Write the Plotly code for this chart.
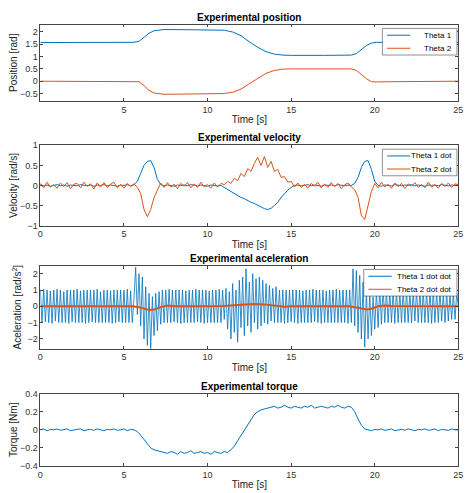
import numpy as np
import plotly.graph_objs as go

# coarse time base for the smooth position signals
t_pos = [0, 2, 4, 5.6, 5.9, 6.2, 6.5, 6.8, 7.1, 7.4, 9, 10.5, 11, 11.5, 12, 12.5, 13, 13.5, 14, 14.5, 15, 17, 18.6,
         18.9, 19.2, 19.5, 19.8, 20.1, 21, 23, 25]
theta1 = [1.57, 1.58, 1.57, 1.58, 1.62, 1.78, 1.95, 2.05, 2.09, 2.1, 2.09, 2.09, 2.07, 2.0, 1.85, 1.6, 1.38, 1.2, 1.1, 1.06, 1.05, 1.05, 1.06,
          1.12, 1.27, 1.45, 1.55, 1.58, 1.57, 1.56, 1.57]
theta2 = [0.0, -0.01, 0.0, 0.0, -0.02, -0.18, -0.37, -0.48, -0.52, -0.53, -0.52, -0.52, -0.5, -0.45, -0.32, -0.1, 0.12, 0.32, 0.44, 0.49, 0.5, 0.5, 0.5,
          0.44, 0.28, 0.1, -0.02, -0.03, -0.02, -0.01, 0.0]

# 0.2 s sampling for velocity and torque
t = np.round(np.arange(0, 25.01, 0.2), 2)

vel1 = [0.02, -0.01, 0.01, -0.02, 0.0, 0.02, -0.01, 0.01, -0.02, 0.01, 0.0, -0.01, 0.02, 0.0, -0.01, 0.01, -0.02, 0.01, 0.0, 0.02,
        -0.01, 0.01, 0.0, -0.02, 0.01, 0.0, 0.02, -0.01, 0.02, 0.1, 0.3, 0.5, 0.6, 0.62, 0.45, 0.15, 0.02, -0.01, 0.01, 0.0,
        -0.02, 0.01, 0.0, 0.01, -0.01, 0.02, 0.0, -0.01, 0.01, 0.0, -0.02, 0.01, 0.0, -0.01, 0.0, -0.05, -0.1, -0.16, -0.2, -0.26,
        -0.3, -0.33, -0.38, -0.42, -0.45, -0.5, -0.55, -0.58, -0.6, -0.57, -0.5, -0.42, -0.3, -0.2, -0.12, -0.05, 0.0, 0.01, -0.01, 0.0,
        0.02, -0.01, 0.01, 0.0, -0.02, 0.01, 0.0, 0.01, -0.01, 0.02, 0.0, -0.01, 0.01, 0.0, 0.05, 0.2, 0.45, 0.6, 0.62, 0.4,
        0.1, 0.0, -0.02, 0.01, 0.0, -0.01, 0.02, 0.0, -0.01, 0.01, 0.0, 0.02, -0.01, 0.01, 0.0, -0.02, 0.01, 0.0, 0.01, -0.01,
        0.02, 0.0, -0.01, 0.01, 0.0, 0.01]
vel2 = [0.05, -0.06, 0.08, -0.04, 0.02, -0.07, 0.06, -0.03, 0.07, -0.08, 0.03, 0.05, -0.06, 0.08, -0.02, 0.04, -0.09, 0.06, -0.04, 0.07,
        -0.05, 0.03, 0.08, -0.06, 0.02, -0.07, 0.05, -0.03, 0.04, -0.05, -0.2, -0.6, -0.78, -0.6, -0.3, -0.1, 0.06, -0.05, 0.07, -0.04,
        0.03, -0.08, 0.05, -0.02, 0.07, -0.06, 0.04, -0.05, 0.08, -0.03, 0.02, -0.07, 0.06, -0.04, 0.05, 0.02, 0.1, 0.05, 0.18, 0.12,
        0.3, 0.22, 0.42, 0.35, 0.55, 0.7, 0.5, 0.72, 0.45, 0.6, 0.35, 0.4, 0.2, 0.22, 0.08, 0.1, -0.04, 0.06, -0.05, 0.03,
        -0.07, 0.05, -0.02, 0.08, -0.06, 0.04, -0.05, 0.07, -0.03, 0.05, -0.08, 0.02, 0.06, -0.04, -0.1, -0.3, -0.75, -0.85, -0.5, -0.15,
        0.05, -0.06, 0.08, -0.04, 0.03, -0.07, 0.06, -0.03, 0.05, -0.08, 0.04, -0.02, 0.07, -0.05, 0.03, -0.06, 0.08, -0.04, 0.02, -0.07,
        0.05, -0.03, 0.06, -0.05, 0.04, 0.02]

# acceleration at 0.1 s, one line per second
t_acc = np.round(np.arange(0, 25.01, 0.1), 2)
acc1 = [1.0, -1.0, 1.05, -0.95, 1.0, -1.0, 0.95, -1.05, 1.0, -0.9,
        1.05, -1.0, 1.0, -1.0, 0.9, -1.0, 1.0, -1.05, 1.0, -0.95,
        1.0, -1.0, 1.05, -1.0, 0.95, -1.0, 1.0, -1.05, 1.0, -1.0,
        1.0, -0.95, 1.0, -1.0, 1.05, -1.0, 0.9, -1.0, 1.0, -1.0,
        1.0, -1.0, 0.95, -1.05, 1.0, -1.0, 1.0, -0.95, 1.0, -1.0,
        1.0, -1.0, 1.05, -1.0, 0.95, -1.0, 0.5, 2.4, -0.5, 2.0,
        -1.2, 1.8, -2.0, 1.2, -2.4, 0.8, -2.6, 0.6, -1.8, 0.8,
        -1.5, 0.9, -1.1, 1.0, -1.0, 1.0, -1.0, 1.05, -1.0, 1.0,
        -0.95, 1.0, -1.0, 1.0, -1.05, 1.0, -1.0, 0.95, -1.0, 1.0,
        -1.0, 1.0, -1.0, 1.05, -0.95, 1.0, -1.0, 1.0, -1.05, 1.0,
        -1.0, 0.95, -1.0, 1.0, -1.0, 1.0, -1.0, 1.05, -1.0, 1.0,
        -0.8, 1.1, -1.4, 0.9, -2.0, 1.4, -1.6, 1.0, -2.2, 1.6,
        -1.3, 1.8, -1.8, 2.3, -1.2, 1.5, -1.6, 2.0, -1.0, 1.7,
        -1.4, 1.8, -1.2, 1.6, -1.0, 1.4, -1.1, 1.3, -0.9, 1.1,
        -1.0, 1.2, -1.0, 1.0, -1.0, 1.0, -1.05, 1.0, -1.0, 1.0,
        -0.95, 1.0, -1.0, 1.0, -1.05, 1.0, -1.0, 0.95, -1.0, 1.0,
        -1.0, 1.0, -1.0, 1.05, -0.95, 1.0, -1.0, 1.0, -1.05, 1.0,
        -1.0, 0.95, -1.0, 1.0, -1.0, 1.0, -1.0, 1.05, -1.0, 1.0,
        -1.0, 1.0, -1.0, 1.0, -1.05, 1.0, -1.0, 2.3, -1.2, 2.2,
        -1.6, 1.9, -2.0, 1.5, -2.5, 1.0, -2.0, 0.8, -1.8, 0.6,
        -1.4, 1.0, -1.3, 1.1, -1.1, 1.2, -1.0, 1.0, -1.0, 0.95,
        -1.0, 1.0, -1.05, 1.0, -1.0, 0.9, -1.0, 1.0, -1.0, 1.0,
        -1.0, 0.9, -1.0, 1.0, -0.9, 1.0, -1.0, 1.0, -1.0, 0.95,
        -1.0, 1.0, -1.0, 1.0, -1.05, 1.0, -1.0, 0.9, -1.0, 1.0,
        -0.9, 0.8, -1.0, 0.9, -0.9, 0.8, -0.8, 0.8, -0.8, 0.8,
        0.0]
t_acc2 = [0, 5.5, 5.9, 6.2, 6.5, 6.8, 7.2, 7.6, 8, 10, 11, 12, 12.8, 13.4, 14, 14.6, 15, 18.5, 19, 19.5, 19.8, 20.2, 20.6, 21, 25]
acc2 = [0.0, 0.0, -0.05, -0.15, -0.22, -0.2, -0.05, 0.05, 0.0, 0.0, 0.02, 0.1, 0.15, 0.12, 0.05, -0.02, 0.0, 0.0, -0.08, -0.2, -0.15, 0.0, 0.05, 0.02, 0.0]

torque = [0.0, 0.01, -0.01, 0.005, 0.0, 0.01, -0.005, 0.0, 0.01, -0.01, 0.0, 0.005, 0.01, -0.01, 0.0, 0.005, -0.005, 0.01, 0.0, -0.01,
          0.005, 0.0, 0.01, -0.005, 0.0, 0.01, -0.01, 0.005, 0.0, -0.02, -0.06, -0.11, -0.16, -0.2, -0.22, -0.23, -0.24, -0.25, -0.26, -0.24,
          -0.25, -0.27, -0.24, -0.26, -0.25, -0.23, -0.26, -0.25, -0.24, -0.26, -0.25, -0.27, -0.24, -0.25, -0.26, -0.24, -0.25, -0.22, -0.18, -0.12,
          -0.06, 0.0, 0.06, 0.12, 0.17, 0.2, 0.22, 0.23, 0.24, 0.25, 0.26, 0.24, 0.25, 0.27, 0.25, 0.24, 0.26, 0.25, 0.24, 0.26,
          0.25, 0.27, 0.24, 0.25, 0.26, 0.25, 0.24, 0.26, 0.25, 0.27, 0.25, 0.24, 0.26, 0.25, 0.2, 0.12, 0.05, 0.01, 0.0, -0.01,
          0.005, 0.0, 0.01, -0.005, 0.0, 0.01, -0.01, 0.0, 0.005, -0.005, 0.01, 0.0, -0.01, 0.005, 0.0, 0.01, -0.005, 0.0, 0.01, -0.01,
          0.005, 0.0, -0.005, 0.01, 0.0, 0.0]

BLUE = '#0072BD'
RED = '#D95319'
FONT = 'Liberation Sans'
XDOM = [0.063, 0.96]

fig = go.Figure()
doms = [(0.818, 0.976), (0.560, 0.726), (0.305, 0.477), (0.062, 0.212)]
titles = ['Experimental position', 'Experimental velocity', 'Experimental aceleration', 'Experimental torque']
ylabels = ['Position [rad]', 'Velocity [rad/s]', 'Aceleration [rad/s<sup>2</sup>]', 'Torque [Nm]']
yranges = [[-0.8, 2.3], [-1, 1], [-2.6, 2.5], [-0.4, 0.4]]
ytickv = [[-0.5, 0, 0.5, 1, 1.5, 2], [-1, -0.5, 0, 0.5, 1], [-2, -1, 0, 1, 2], [-0.4, -0.2, 0, 0.2, 0.4]]

series = [
    [(t_pos, theta1, BLUE, 'Theta 1'), (t_pos, theta2, RED, 'Theta 2')],
    [(t, vel1, BLUE, 'Theta 1 dot'), (t, vel2, RED, 'Theta 2 dot')],
    [(t_acc, acc1, BLUE, 'Theta 1 dot dot'), (t_acc2, acc2, RED, 'Theta 2 dot dot')],
    [(t, torque, BLUE, 'torque')],
]

for i in range(4):
    n = '' if i == 0 else str(i + 1)
    for k, (xs, ys, c, nm) in enumerate(series[i]):
        w = 1
        if i == 2:
            w = 0.8 if k == 0 else 2
        fig.add_trace(go.Scatter(x=xs, y=ys, mode='lines', name=nm, line=dict(color=c, width=w),
                                 xaxis='x' + n, yaxis='y' + n, showlegend=False))
    common = dict(showline=True, mirror='ticks', linecolor='#444', linewidth=0.8, ticks='inside', ticklen=3,
                  tickcolor='#444', showgrid=False, zeroline=False, tickfont=dict(size=9, color='#333'))
    fig.layout['xaxis' + n] = dict(domain=XDOM, range=[0, 25], anchor='y' + n,
                                   tickvals=[0, 5, 10, 15, 20, 25] if i else [5, 10, 15, 20, 25],
                                   title=dict(text='Time [s]', font=dict(size=10), standoff=2), **common)
    fig.layout['yaxis' + n] = dict(domain=list(doms[i]), range=yranges[i], anchor='x' + n, tickvals=ytickv[i],
                                   title=dict(text=ylabels[i], font=dict(size=10), standoff=3), **common)
    fig.add_annotation(text='<b>' + titles[i] + '</b>', x=(XDOM[0] + XDOM[1]) / 2, y=doms[i][1], xref='paper', yref='paper',
                       xanchor='center', yanchor='bottom', showarrow=False, font=dict(size=10, color='#000'))
    # legend box
    if len(series[i]) == 2:
        labels = [s[3] for s in series[i]]
        w = 0.16 if i < 2 else 0.2
        x1 = XDOM[1] - 0.003
        ytop = doms[i][1] - 0.008
        fig.add_shape(type='rect', xref='paper', yref='paper', x0=x1 - w, x1=x1, y0=ytop - 0.055, y1=ytop,
                      line=dict(color='#444', width=0.6), fillcolor='white')
        for j in range(2):
            yy = ytop - 0.014 - j * 0.027
            fig.add_shape(type='line', xref='paper', yref='paper', x0=x1 - w + 0.01, x1=x1 - w + 0.06, y0=yy, y1=yy,
                          line=dict(color=[BLUE, RED][j], width=1))
            fig.add_annotation(text=labels[j], x=x1 - 0.006, y=yy, xref='paper', yref='paper', xanchor='right',
                               yanchor='middle', showarrow=False, font=dict(size=8, color='#000'))

fig.update_layout(width=474, height=493, margin=dict(l=0, r=0, t=0, b=0), plot_bgcolor='white',
                  paper_bgcolor='white', font=dict(family=FONT, color='#222'))
fig.write_html("out.html")
